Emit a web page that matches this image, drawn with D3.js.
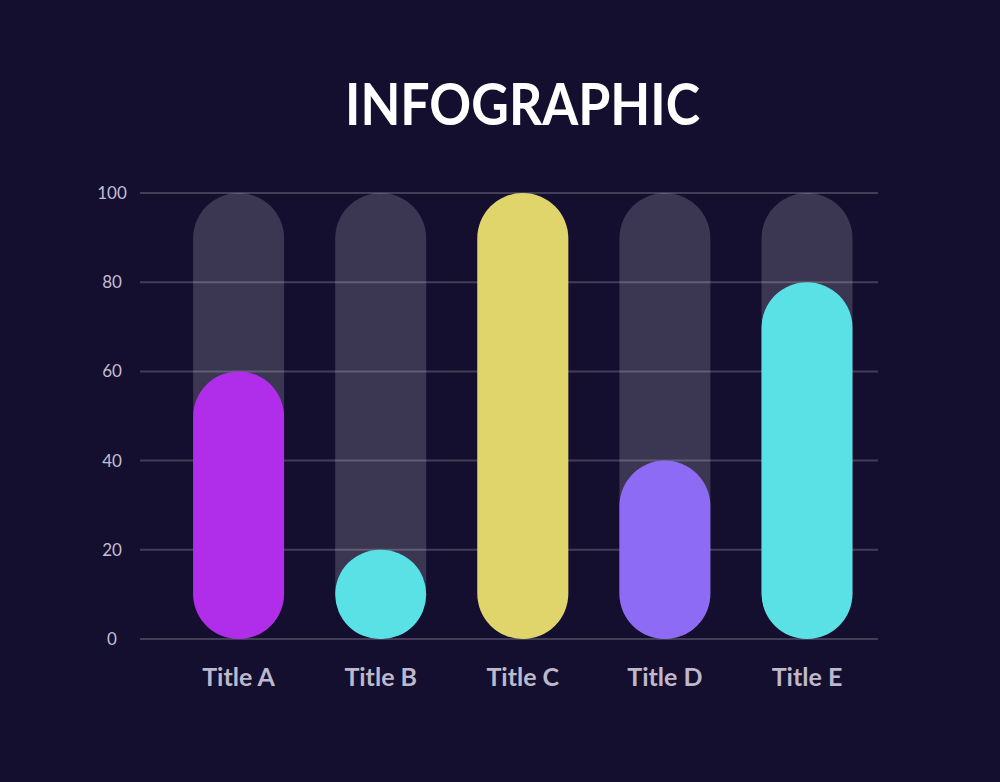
<!DOCTYPE html>
<html><head><meta charset="utf-8">
<script src="https://cdn.jsdelivr.net/npm/d3@7"></script>
<style>html,body{margin:0;padding:0;background:#140e2f;}svg{display:block;}</style>
</head><body>
<script>
const categories = ["Title A","Title B","Title C","Title D","Title E"];
const values = [60, 20, 100, 40, 80];
const barColors = ["#b02eea","#5ae1e6","#e0d56b","#8d6bf5","#5ae1e6"];
const yTicks = [0,20,40,60,80,100];
const title = "INFOGRAPHIC";

const W = 1000, H = 782;
const FONT = "Lato, 'Open Sans', sans-serif";
const svg = d3.select("body").append("svg").attr("width", W).attr("height", H);
svg.append("rect").attr("width", W).attr("height", H).attr("fill", "#140e2f");

const y = d3.scaleLinear().domain([0,100]).range([639,193]);
const x = d3.scalePoint().domain(categories).range([238.6, 807]);
const bw = 91;

svg.append("text").attr("x", 522.5).attr("y", 125).attr("text-anchor","middle")
  .attr("fill","#ffffff").attr("font-family",FONT).attr("font-weight",700)
  .attr("font-size",57).attr("textLength",355).attr("lengthAdjust","spacingAndGlyphs").text(title);

// gridlines
svg.append("g").selectAll("line").data(yTicks).join("line")
  .attr("x1",140).attr("x2",878).attr("y1",d=>y(d)).attr("y2",d=>y(d))
  .attr("stroke","rgba(255,255,255,0.2)").attr("stroke-width",2);

// axis labels
const axis = d3.axisLeft(y).tickValues(yTicks).tickSize(0).tickPadding(0);
const ag = svg.append("g").attr("transform","translate(112,0)").call(axis);
ag.select(".domain").remove();
ag.selectAll("text").attr("fill","#c3bed3").attr("font-family",FONT)
  .attr("font-size",17).attr("text-anchor","middle").attr("x",0);

// background pills
svg.append("g").selectAll("rect").data(categories).join("rect")
  .attr("x",d=>x(d)-bw/2).attr("width",bw).attr("y",y(100)).attr("height",y(0)-y(100))
  .attr("rx",bw/2).attr("fill","rgba(255,255,255,0.17)");

// value pills
svg.append("g").selectAll("rect").data(values).join("rect")
  .attr("x",(d,i)=>x(categories[i])-bw/2).attr("width",bw)
  .attr("y",d=>y(d)).attr("height",d=>y(0)-y(d))
  .attr("rx",d=>Math.min(bw/2,(y(0)-y(d))/2)).attr("fill",(d,i)=>barColors[i]);

// category labels
svg.append("g").selectAll("text").data(categories).join("text")
  .attr("x",d=>x(d)).attr("y",686).attr("text-anchor","middle")
  .attr("fill","#bdb9cb").attr("font-family",FONT).attr("font-weight",700)
  .attr("font-size",25).text(d=>d);
</script>
</body></html>
